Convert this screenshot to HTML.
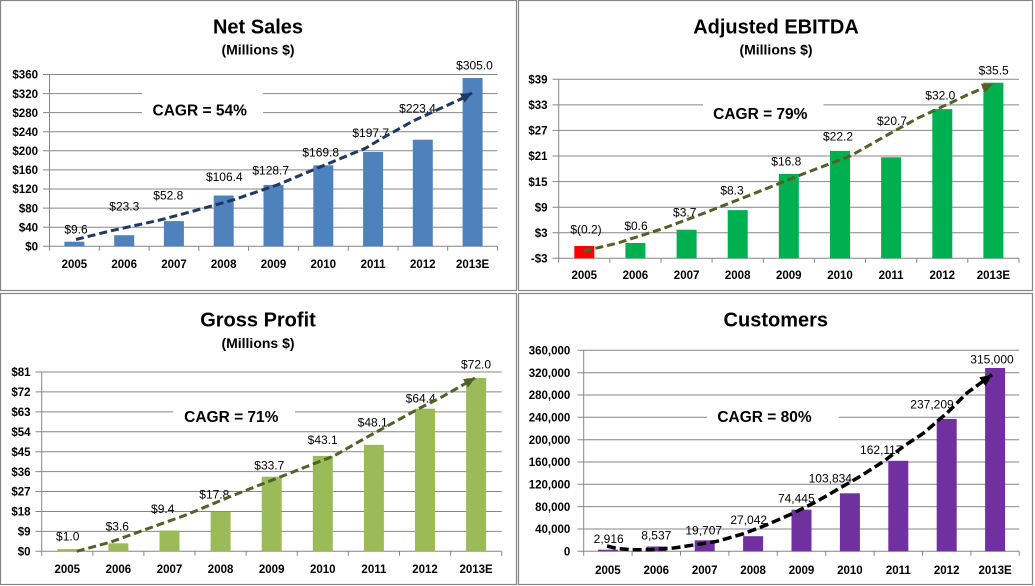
<!DOCTYPE html>
<html><head><meta charset="utf-8">
<style>
html,body{margin:0;padding:0;background:#fff;}
svg{display:block;}
text{font-family:"Liberation Sans",Arial,sans-serif;fill:#000;}
.t{font-size:20px;font-weight:bold;text-anchor:middle;}
.st{font-size:14px;font-weight:bold;text-anchor:middle;}
.yl{font-size:11.5px;font-weight:bold;text-anchor:end;}
.xl{font-size:11.5px;font-weight:bold;text-anchor:middle;}
.dl{font-size:12px;text-anchor:middle;}
.cg{font-size:15.5px;font-weight:bold;text-anchor:middle;}
.g line{stroke:#868686;stroke-width:1;}
.ax{stroke:#868686;stroke-width:1;fill:none;}
</style></head>
<body>
<svg width="1035" height="586" viewBox="0 0 1035 586" xmlns="http://www.w3.org/2000/svg">
<defs>
<marker id="mNav" viewBox="0 0 10 10" refX="10" refY="5" markerWidth="11" markerHeight="10" markerUnits="userSpaceOnUse" orient="auto" preserveAspectRatio="none"><path d="M0,0 L10,5 L0,10 z" fill="#1F3864"/></marker>
<marker id="mOl" viewBox="0 0 10 10" refX="10" refY="5" markerWidth="11" markerHeight="10" markerUnits="userSpaceOnUse" orient="auto" preserveAspectRatio="none"><path d="M0,0 L10,5 L0,10 z" fill="#4F6228"/></marker>
<marker id="mBk" viewBox="0 0 10 10" refX="10" refY="5" markerWidth="12" markerHeight="11" markerUnits="userSpaceOnUse" orient="auto" preserveAspectRatio="none"><path d="M0,0 L10,5 L0,10 z" fill="#000"/></marker>
</defs>

<rect x="0" y="0" width="1035" height="586" fill="#fff"/>
<!-- panel borders -->
<rect x="0.5" y="0.5" width="516" height="290" fill="none" stroke="#858585" stroke-width="1.2"/>
<rect x="518.5" y="0.5" width="514" height="290" fill="none" stroke="#858585" stroke-width="1.2"/>
<rect x="0.5" y="293.5" width="516" height="291" fill="none" stroke="#858585" stroke-width="1.2"/>
<rect x="518.5" y="293.5" width="514" height="291" fill="none" stroke="#858585" stroke-width="1.2"/>

<!-- ================= PANEL 1: NET SALES ================= -->
<g transform="translate(0,0)">
<g class="g">
<line x1="43" y1="246.3" x2="497.5" y2="246.3"/>
<line x1="43" y1="227.2" x2="497.5" y2="227.2"/>
<line x1="43" y1="208.1" x2="497.5" y2="208.1"/>
<line x1="43" y1="189.0" x2="497.5" y2="189.0"/>
<line x1="43" y1="169.9" x2="497.5" y2="169.9"/>
<line x1="43" y1="150.8" x2="497.5" y2="150.8"/>
<line x1="43" y1="131.7" x2="497.5" y2="131.7"/>
<line x1="43" y1="112.6" x2="497.5" y2="112.6"/>
<line x1="43" y1="93.6" x2="497.5" y2="93.6"/>
<line x1="43" y1="74.5" x2="497.5" y2="74.5"/>
</g>
<rect x="142" y="86" width="121" height="38" fill="#fff"/>
<g fill="#4F81BD">
<rect x="64.4" y="241.7" width="20" height="4.6"/>
<rect x="114.2" y="235.2" width="20" height="11.1"/>
<rect x="163.9" y="221.1" width="20" height="25.2"/>
<rect x="213.7" y="195.5" width="20" height="50.8"/>
<rect x="263.5" y="184.9" width="20" height="61.4"/>
<rect x="313.3" y="165.3" width="20" height="81.0"/>
<rect x="363.1" y="152.0" width="20" height="94.3"/>
<rect x="412.8" y="139.7" width="20" height="106.6"/>
<rect x="462.6" y="78" width="20" height="168.3"/>
</g>
<line class="ax" x1="49.5" y1="74.5" x2="49.5" y2="246.3"/>
<g class="g">
<line x1="49.5" y1="246.3" x2="49.5" y2="250.8"/><line x1="99.3" y1="246.3" x2="99.3" y2="250.8"/>
<line x1="149.1" y1="246.3" x2="149.1" y2="250.8"/><line x1="198.8" y1="246.3" x2="198.8" y2="250.8"/>
<line x1="248.6" y1="246.3" x2="248.6" y2="250.8"/><line x1="298.4" y1="246.3" x2="298.4" y2="250.8"/>
<line x1="348.2" y1="246.3" x2="348.2" y2="250.8"/><line x1="398.0" y1="246.3" x2="398.0" y2="250.8"/>
<line x1="447.7" y1="246.3" x2="447.7" y2="250.8"/><line x1="497.5" y1="246.3" x2="497.5" y2="250.8"/>
</g>
<text class="yl" x="38" y="250.5">$0</text>
<text class="yl" x="38" y="231.4">$40</text>
<text class="yl" x="38" y="212.3">$80</text>
<text class="yl" x="38" y="193.2">$120</text>
<text class="yl" x="38" y="174.1">$160</text>
<text class="yl" x="38" y="155.0">$200</text>
<text class="yl" x="38" y="135.9">$240</text>
<text class="yl" x="38" y="116.8">$280</text>
<text class="yl" x="38" y="97.8">$320</text>
<text class="yl" x="38" y="78.7">$360</text>
<text class="xl" x="74.4" y="268">2005</text>
<text class="xl" x="124.2" y="268">2006</text>
<text class="xl" x="174" y="268">2007</text>
<text class="xl" x="223.7" y="268">2008</text>
<text class="xl" x="273.5" y="268">2009</text>
<text class="xl" x="323.3" y="268">2010</text>
<text class="xl" x="373.1" y="268">2011</text>
<text class="xl" x="422.8" y="268">2012</text>
<text class="xl" x="472.6" y="268">2013E</text>
<text class="t" x="258" y="33.3">Net Sales</text>
<text class="st" x="258" y="54.5">(Millions $)</text>
<text class="cg" x="199.7" y="115.7">CAGR = 54%</text>
<text class="dl" x="76" y="233.6">$9.6</text>
<text class="dl" x="124.3" y="210.3">$23.3</text>
<text class="dl" x="168.3" y="199.3">$52.8</text>
<text class="dl" x="224.3" y="181">$106.4</text>
<text class="dl" x="270.7" y="174.3">$128.7</text>
<text class="dl" x="320.7" y="156.3">$169.8</text>
<text class="dl" x="370.7" y="137">$197.7</text>
<text class="dl" x="417.5" y="112.6">$223.4</text>
<text class="dl" x="474.5" y="69.3">$305.0</text>
<polyline points="76,239.5 110,231 160,220 190,212 233,200 277,185 320,167 366,148 380,139.5 413,121 437,110 460,99.5 472,93" fill="none" stroke="#1F3864" stroke-width="3" stroke-dasharray="8 4" marker-end="url(#mNav)"/>
</g>

<!-- ================= PANEL 2: ADJUSTED EBITDA ================= -->
<g transform="translate(517,0)">
<g class="g">
<line x1="35.5" y1="258.3" x2="502" y2="258.3"/>
<line x1="35.5" y1="232.7" x2="502" y2="232.7"/>
<line x1="35.5" y1="207.2" x2="502" y2="207.2"/>
<line x1="35.5" y1="181.6" x2="502" y2="181.6"/>
<line x1="35.5" y1="156.0" x2="502" y2="156.0"/>
<line x1="35.5" y1="130.4" x2="502" y2="130.4"/>
<line x1="35.5" y1="104.9" x2="502" y2="104.9"/>
<line x1="35.5" y1="79.3" x2="502" y2="79.3"/>
</g>
<rect x="186" y="92" width="120.5" height="33" fill="#fff"/>
<rect x="57.3" y="246" width="20" height="12.3" fill="#FF0000"/>
<g fill="#00B050">
<rect x="108.4" y="243" width="20" height="15.3"/>
<rect x="159.6" y="229.7" width="20" height="28.6"/>
<rect x="210.7" y="210.1" width="20" height="48.2"/>
<rect x="261.8" y="173.9" width="20" height="84.4"/>
<rect x="313.0" y="150.9" width="20" height="107.4"/>
<rect x="364.1" y="157.3" width="20" height="101.0"/>
<rect x="415.3" y="109.1" width="20" height="149.2"/>
<rect x="466.4" y="82.7" width="20" height="175.6"/>
</g>
<line class="ax" x1="41.7" y1="79.3" x2="41.7" y2="258.3"/>
<g class="g">
<line x1="41.7" y1="258.3" x2="41.7" y2="262.8"/><line x1="92.8" y1="258.3" x2="92.8" y2="262.8"/>
<line x1="144.0" y1="258.3" x2="144.0" y2="262.8"/><line x1="195.1" y1="258.3" x2="195.1" y2="262.8"/>
<line x1="246.3" y1="258.3" x2="246.3" y2="262.8"/><line x1="297.4" y1="258.3" x2="297.4" y2="262.8"/>
<line x1="348.5" y1="258.3" x2="348.5" y2="262.8"/><line x1="399.7" y1="258.3" x2="399.7" y2="262.8"/>
<line x1="450.8" y1="258.3" x2="450.8" y2="262.8"/><line x1="502" y1="258.3" x2="502" y2="262.8"/>
</g>
<text class="yl" x="30.5" y="262.5">-$3</text>
<text class="yl" x="30.5" y="236.9">$3</text>
<text class="yl" x="30.5" y="211.4">$9</text>
<text class="yl" x="30.5" y="185.8">$15</text>
<text class="yl" x="30.5" y="160.2">$21</text>
<text class="yl" x="30.5" y="134.6">$27</text>
<text class="yl" x="30.5" y="109.1">$33</text>
<text class="yl" x="30.5" y="83.5">$39</text>
<text class="xl" x="67.3" y="279">2005</text>
<text class="xl" x="118.4" y="279">2006</text>
<text class="xl" x="169.6" y="279">2007</text>
<text class="xl" x="220.7" y="279">2008</text>
<text class="xl" x="271.8" y="279">2009</text>
<text class="xl" x="323" y="279">2010</text>
<text class="xl" x="374.1" y="279">2011</text>
<text class="xl" x="425.3" y="279">2012</text>
<text class="xl" x="476.4" y="279">2013E</text>
<text class="t" x="259" y="33.3">Adjusted EBITDA</text>
<text class="st" x="259" y="54.5">(Millions $)</text>
<text class="cg" x="243.3" y="119">CAGR = 79%</text>
<text class="dl" x="69" y="233.6">$(0.2)</text>
<text class="dl" x="119" y="230">$0.6</text>
<text class="dl" x="167.7" y="216.3">$3.7</text>
<text class="dl" x="215" y="194.3">$8.3</text>
<text class="dl" x="269.3" y="165.3">$16.8</text>
<text class="dl" x="321" y="140.3">$22.2</text>
<text class="dl" x="375" y="125">$20.7</text>
<text class="dl" x="423.3" y="99.3">$32.0</text>
<text class="dl" x="476.7" y="74.3">$35.5</text>
<polyline points="66.7,251 100,243.3 146.7,228.3 186.7,213.3 233.3,195 283.3,175 333.3,156 366.7,137 400,118.5 433.3,103 450,95 476,84" fill="none" stroke="#4F6228" stroke-width="3" stroke-dasharray="8 4" marker-end="url(#mOl)"/>
</g>

<!-- ================= PANEL 3: GROSS PROFIT ================= -->
<g transform="translate(0,293)">
<g class="g">
<line x1="35.5" y1="258.3" x2="501.7" y2="258.3"/>
<line x1="35.5" y1="238.4" x2="501.7" y2="238.4"/>
<line x1="35.5" y1="218.5" x2="501.7" y2="218.5"/>
<line x1="35.5" y1="198.5" x2="501.7" y2="198.5"/>
<line x1="35.5" y1="178.6" x2="501.7" y2="178.6"/>
<line x1="35.5" y1="158.7" x2="501.7" y2="158.7"/>
<line x1="35.5" y1="138.8" x2="501.7" y2="138.8"/>
<line x1="35.5" y1="118.9" x2="501.7" y2="118.9"/>
<line x1="35.5" y1="98.9" x2="501.7" y2="98.9"/>
<line x1="35.5" y1="79.0" x2="501.7" y2="79.0"/>
</g>
<rect x="173.5" y="104" width="121.5" height="29" fill="#fff"/>
<g fill="#9BBB59">
<rect x="57.3" y="256.1" width="20" height="2.2"/>
<rect x="108.4" y="250.3" width="20" height="8.0"/>
<rect x="159.5" y="237.5" width="20" height="20.8"/>
<rect x="210.6" y="218.9" width="20" height="39.4"/>
<rect x="261.7" y="183.7" width="20" height="74.6"/>
<rect x="312.8" y="162.9" width="20" height="95.4"/>
<rect x="363.9" y="151.8" width="20" height="106.5"/>
<rect x="415.0" y="115.7" width="20" height="142.6"/>
<rect x="466.1" y="85" width="20" height="173.3"/>
</g>
<line class="ax" x1="41.7" y1="79" x2="41.7" y2="258.3"/>
<g class="g">
<line x1="41.7" y1="258.3" x2="41.7" y2="262.8"/><line x1="92.8" y1="258.3" x2="92.8" y2="262.8"/>
<line x1="143.9" y1="258.3" x2="143.9" y2="262.8"/><line x1="195.0" y1="258.3" x2="195.0" y2="262.8"/>
<line x1="246.1" y1="258.3" x2="246.1" y2="262.8"/><line x1="297.3" y1="258.3" x2="297.3" y2="262.8"/>
<line x1="348.4" y1="258.3" x2="348.4" y2="262.8"/><line x1="399.5" y1="258.3" x2="399.5" y2="262.8"/>
<line x1="450.6" y1="258.3" x2="450.6" y2="262.8"/><line x1="501.7" y1="258.3" x2="501.7" y2="262.8"/>
</g>
<text class="yl" x="30.5" y="262.5">$0</text>
<text class="yl" x="30.5" y="242.6">$9</text>
<text class="yl" x="30.5" y="222.7">$18</text>
<text class="yl" x="30.5" y="202.7">$27</text>
<text class="yl" x="30.5" y="182.8">$36</text>
<text class="yl" x="30.5" y="162.9">$45</text>
<text class="yl" x="30.5" y="143.0">$54</text>
<text class="yl" x="30.5" y="123.1">$63</text>
<text class="yl" x="30.5" y="103.1">$72</text>
<text class="yl" x="30.5" y="83.2">$81</text>
<text class="xl" x="67.3" y="280">2005</text>
<text class="xl" x="118.4" y="280">2006</text>
<text class="xl" x="169.5" y="280">2007</text>
<text class="xl" x="220.6" y="280">2008</text>
<text class="xl" x="271.7" y="280">2009</text>
<text class="xl" x="322.8" y="280">2010</text>
<text class="xl" x="373.9" y="280">2011</text>
<text class="xl" x="425" y="280">2012</text>
<text class="xl" x="476.1" y="280">2013E</text>
<text class="t" x="258" y="33.3">Gross Profit</text>
<text class="st" x="258" y="55">(Millions $)</text>
<text class="cg" x="231.3" y="129">CAGR = 71%</text>
<text class="dl" x="67.7" y="247.6">$1.0</text>
<text class="dl" x="117.3" y="237.6">$3.6</text>
<text class="dl" x="162.7" y="220">$9.4</text>
<text class="dl" x="214.3" y="205.3">$17.8</text>
<text class="dl" x="269.3" y="176.6">$33.7</text>
<text class="dl" x="322.7" y="151">$43.1</text>
<text class="dl" x="372.7" y="133.3">$48.1</text>
<text class="dl" x="420.7" y="109.3">$64.4</text>
<text class="dl" x="476" y="75.3">$72.0</text>
<polyline points="76.7,258.3 110,249.3 143.3,237.3 186.7,221.7 233.3,202.3 273.3,186.7 320,168.3 333.3,163.3 366.7,144.3 400,126 420,115 440,105 475,85" fill="none" stroke="#4F6228" stroke-width="3" stroke-dasharray="8 4" marker-end="url(#mOl)"/>
</g>

<!-- ================= PANEL 4: CUSTOMERS ================= -->
<g transform="translate(517,293)">
<g class="g">
<line x1="60.5" y1="258.3" x2="502.3" y2="258.3"/>
<line x1="60.5" y1="236.0" x2="502.3" y2="236.0"/>
<line x1="60.5" y1="213.6" x2="502.3" y2="213.6"/>
<line x1="60.5" y1="191.3" x2="502.3" y2="191.3"/>
<line x1="60.5" y1="169.0" x2="502.3" y2="169.0"/>
<line x1="60.5" y1="146.7" x2="502.3" y2="146.7"/>
<line x1="60.5" y1="124.3" x2="502.3" y2="124.3"/>
<line x1="60.5" y1="102.0" x2="502.3" y2="102.0"/>
<line x1="60.5" y1="79.7" x2="502.3" y2="79.7"/>
<line x1="60.5" y1="57.3" x2="502.3" y2="57.3"/>
</g>
<rect x="190" y="108" width="131.5" height="32" fill="#fff"/>
<g fill="#7030A0">
<rect x="80.9" y="256.7" width="20" height="1.6"/>
<rect x="129.3" y="253.5" width="20" height="4.8"/>
<rect x="177.7" y="247.3" width="20" height="11.0"/>
<rect x="226.1" y="243.2" width="20" height="15.1"/>
<rect x="274.5" y="216.7" width="20" height="41.6"/>
<rect x="322.9" y="200.3" width="20" height="58.0"/>
<rect x="371.3" y="167.8" width="20" height="90.5"/>
<rect x="419.7" y="125.9" width="20" height="132.4"/>
<rect x="468.1" y="75" width="20" height="183.3"/>
</g>
<line class="ax" x1="66.7" y1="57.3" x2="66.7" y2="258.3"/>
<g class="g">
<line x1="66.7" y1="258.3" x2="66.7" y2="262.8"/><line x1="115.1" y1="258.3" x2="115.1" y2="262.8"/>
<line x1="163.5" y1="258.3" x2="163.5" y2="262.8"/><line x1="211.9" y1="258.3" x2="211.9" y2="262.8"/>
<line x1="260.3" y1="258.3" x2="260.3" y2="262.8"/><line x1="308.7" y1="258.3" x2="308.7" y2="262.8"/>
<line x1="357.1" y1="258.3" x2="357.1" y2="262.8"/><line x1="405.5" y1="258.3" x2="405.5" y2="262.8"/>
<line x1="453.9" y1="258.3" x2="453.9" y2="262.8"/><line x1="502.3" y1="258.3" x2="502.3" y2="262.8"/>
</g>
<text class="yl" x="53.3" y="262.5">0</text>
<text class="yl" x="53.3" y="240.2">40,000</text>
<text class="yl" x="53.3" y="217.8">80,000</text>
<text class="yl" x="53.3" y="195.5">120,000</text>
<text class="yl" x="53.3" y="173.2">160,000</text>
<text class="yl" x="53.3" y="150.9">200,000</text>
<text class="yl" x="53.3" y="128.5">240,000</text>
<text class="yl" x="53.3" y="106.2">280,000</text>
<text class="yl" x="53.3" y="83.9">320,000</text>
<text class="yl" x="53.3" y="61.5">360,000</text>
<text class="xl" x="90.9" y="281">2005</text>
<text class="xl" x="139.3" y="281">2006</text>
<text class="xl" x="187.7" y="281">2007</text>
<text class="xl" x="236.1" y="281">2008</text>
<text class="xl" x="284.5" y="281">2009</text>
<text class="xl" x="332.9" y="281">2010</text>
<text class="xl" x="381.3" y="281">2011</text>
<text class="xl" x="429.7" y="281">2012</text>
<text class="xl" x="478.1" y="281">2013E</text>
<text class="t" x="258.8" y="33.3">Customers</text>
<text class="cg" x="247.5" y="129">CAGR = 80%</text>
<text class="dl" x="91.7" y="250">2,916</text>
<text class="dl" x="139.3" y="246.6">8,537</text>
<text class="dl" x="186.7" y="241.6">19,707</text>
<text class="dl" x="231.7" y="231">27,042</text>
<text class="dl" x="279.3" y="209.3">74,445</text>
<text class="dl" x="313.3" y="189.3">103,834</text>
<text class="dl" x="364.3" y="161">162,117</text>
<text class="dl" x="415" y="115.3">237,209</text>
<text class="dl" x="475" y="70.3">315,000</text>
<polyline points="90,253 100,255.5 113.3,256.7 133.3,256.7 156.7,255 176.7,252 200,248.3 226.7,240.7 250,231.7 276.7,220 300,208.3 320,196.7 343.3,183.3 366.7,168.3 386.7,153.3 406.7,140 430,120 450,100 475,81.7" fill="none" stroke="#000" stroke-width="3.5" stroke-dasharray="9 4" marker-end="url(#mBk)"/>
</g>
</svg>
</body></html>
